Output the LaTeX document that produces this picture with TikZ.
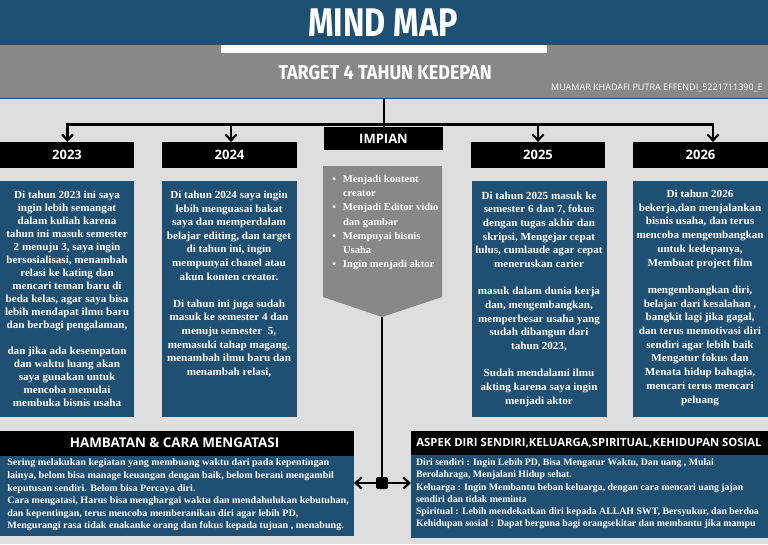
\documentclass[tikz,border=0pt]{standalone}
\usepackage{fontspec}
\usetikzlibrary{arrows.meta}
\setmainfont{Liberation Serif}
\newfontfamily\colfont[FakeStretch=1.03]{Liberation Serif}
\newfontfamily\lowfont[FakeStretch=1.03]{Liberation Serif}
\newfontfamily\headfont{Open Sans}
\newfontfamily\titlefont[FakeStretch=0.81]{Fira Sans}
\newfontfamily\subfont[FakeStretch=0.9]{Fira Sans}
\definecolor{bandblue}{HTML}{1F4F73}
\definecolor{bandgray}{HTML}{888888}
\definecolor{pagegray}{HTML}{DEDEDE}
\tikzset{
  flat/.style={inner sep=0pt,outer sep=0pt,anchor=north west},
  yearbox/.style={flat,fill=black,text=white,font=\headfont\bfseries\fontsize{13}{14}\selectfont,minimum height=26pt,minimum width=135pt},
  bluebox/.style={flat,fill=bandblue,minimum height=236pt,minimum width=135pt},
  body/.style={inner sep=0pt,outer sep=0pt,anchor=north,text=white,align=center,font=\colfont\bfseries\fontsize{10.8}{#1}\selectfont},
  para/.style={inner sep=0pt,outer sep=0pt,anchor=north west,text=white,align=left,font=\lowfont\bfseries\fontsize{9.8}{#1}\selectfont},
  wishpara/.style={inner sep=0pt,outer sep=0pt,anchor=north west,text=white,align=left,font=\colfont\bfseries\fontsize{10.3}{#1}\selectfont},
  wire/.style={line width=2.6pt,draw=black},
  tipwire/.style={wire,-{Straight Barb[length=6pt,width=11pt,line width=2.2pt]}},
}
\begin{document}
\begin{tikzpicture}[x=1pt,y=-1pt]
\useasboundingbox (0,0) rectangle (768,544);
\fill[pagegray] (0,0) rectangle (768,544);
\node[flat,fill=bandgray,minimum width=768pt,minimum height=53pt] (grayband) at (0,45) {};
\node[flat,fill=bandblue,minimum width=768pt,minimum height=45pt] (blueband) at (0,0) {};
\fill[bandblue] (0,98) rectangle (768,99);
\node[flat,fill=white,minimum width=326pt,minimum height=8pt] (whitebar) at (221,45) {};
\node[inner sep=0pt,text=white,font=\titlefont\bfseries\fontsize{40}{40}\selectfont] (title) at (383,23) {MIND MAP};
\node[inner sep=0pt,text=white,font=\subfont\bfseries\fontsize{20}{20}\selectfont] (subtitle) at (385,72.5) {TARGET 4 TAHUN KEDEPAN};
\node[inner sep=0pt,anchor=east,text=white,font=\headfont\fontsize{9}{10}\selectfont] (author) at (763,88) {MUAMAR KHADAFI PUTRA EFFENDI\_5221711390\_E};

% year headers
\node[yearbox,minimum width=134pt] (y2023) at (0,142) {2023};
\node[yearbox] (y2024) at (162,142) {2024};
\node[yearbox,minimum width=134pt] (y2025) at (471,142) {2025};
\node[yearbox] (y2026) at (633,142) {2026};
\node[yearbox,minimum width=119pt,minimum height=23pt] (impian) at (324,127) {IMPIAN};

% connectors above
\coordinate (b1) at (67.5,124.5);
\coordinate (b2) at (231,124.5);
\coordinate (b3) at (538,124.5);
\coordinate (b4) at (713,124.5);
\draw[wire] (384,98) coordinate (trunktop) -- (384,127) coordinate (trunkend);
\draw[wire,line cap=rect] (b1) -- (b4);
\draw[tipwire] (b1) -- (y2023.north -| b1);
\draw[tipwire] (b2) -- (y2024.north -| b2);
\draw[tipwire] (b3) -- (y2025.north -| b3);
\draw[tipwire] (b4) -- (y2026.north -| b4);

% blue columns
\node[bluebox,minimum width=134pt] (c2023) at (0,181) {};
\node[bluebox] (c2024) at (162,181) {};
\node[bluebox] (c2025) at (472,181) {};
\node[bluebox] (c2026) at (633,181) {};

\node[body=13] (t2023) at (67,190.5) {Di tahun 2023 ini saya\\ingin lebih semangat\\dalam kuliah karena\\tahun ini masuk semester\\2 menuju 3, saya ingin\\bersosialisasi, menambah\\relasi ke kating dan\\mencari teman baru di\\beda kelas, agar saya bisa\\lebih mendapat ilmu baru\\dan berbagi pengalaman,\\[13pt]dan jika ada kesempatan\\dan waktu luang akan\\saya gunakan untuk\\mencoba memulai\\membuka bisnis usaha};
\node[body=13.6] (t2024) at (229,191) {Di tahun 2024 saya ingin\\lebih menguasai bakat\\saya dan memperdalam\\belajar editing, dan target\\di tahun ini, ingin\\mempunyai chanel atau\\akun konten creator.\\[13.6pt]Di tahun ini juga sudah\\masuk ke semester 4 dan\\menuju semester~~5,\\memasuki tahap magang.\\menambah ilmu baru dan\\menambah relasi,};
\node[body=13.67] (t2025) at (539,191.5) {Di tahun 2025 masuk ke\\semester 6 dan 7, fokus\\dengan tugas akhir dan\\skripsi, Mengejar cepat\\lulus, cumlaude agar cepat\\meneruskan carier\\[13.67pt]masuk dalam dunia kerja\\dan, mengembangkan,\\memperbesar usaha yang\\sudah dibangun dari\\tahun 2023,\\[13.67pt]Sudah mendalami ilmu\\akting karena saya ingin\\menjadi aktor};
\node[body=13.7] (t2026) at (700,190) {Di tahun 2026\\bekerja,dan menjalankan\\bisnis usaha, dan terus\\mencoba mengembangkan\\untuk kedepanya,\\Membuat project film\\[13.7pt]mengembangkan diri,\\belajar dari kesalahan ,\\bangkit lagi jika gagal,\\dan terus memotivasi diri\\sendiri agar lebih baik\\Mengatur fokus dan\\Menata hidup bahagia,\\mencari terus mencari\\peluang};

% centre pentagon
\path (323,166) coordinate (p1) (442,166) coordinate (p2) (442,297) coordinate (p3) (382,317) coordinate (ptip) (323,297) coordinate (p5);
\fill[bandgray] (p1) -- (p2) -- (p3) -- (ptip) -- (p5) -- cycle;
\node[wishpara=14.3] (wishes) at (343,175) {\llap{•\hspace{7pt}}Menjadi kontent\\creator\\\llap{•\hspace{7pt}}Menjadi Editor vidio\\dan gambar\\\llap{•\hspace{7pt}}Mempuyai bisnis\\Usaha\\\llap{•\hspace{7pt}}Ingin menjadi aktor};

% bottom boxes
\node[flat,fill=bandblue,minimum width=354pt,minimum height=80pt] (lbody) at (0,456) {};
\node[flat,fill=black,minimum width=354pt,minimum height=25pt] (lhead) at (0,431) {};
\node[inner sep=0pt,text=white,font=\headfont\bfseries\fontsize{13.4}{14}\selectfont] (lheadtext) at (174.5,442.5) {HAMBATAN \& CARA MENGATASI};
\node[flat,fill=bandblue,minimum width=357pt,minimum height=83pt] (rbody) at (411,455) {};
\node[flat,fill=black,minimum width=357pt,minimum height=24pt] (rhead) at (411,431) {};
\node[inner sep=0pt,text=white,font=\headfont\bfseries\fontsize{11.3}{14}\selectfont] (rheadtext) at (589,443) {ASPEK DIRI SENDIRI,KELUARGA,SPIRITUAL,KEHIDUPAN SOSIAL};
\node[para=12.6] (ltext) at (7.3,459) {Sering melakukan kegiatan yang membuang waktu dari pada kepentingan\\lainya, belom bisa manage keuangan dengan baik, belom berani mengambil\\keputusan sendiri. Belom bisa Percaya diri.\\Cara mengatasi, Harus bisa menghargai waktu dan mendahulukan kebutuhan,\\dan kepentingan, terus mencoba memberanikan diri agar lebih PD,\\Mengurangi rasa tidak enakanke orang dan fokus kepada tujuan , menabung.};
\node[para=12.1,font=\bfseries\fontsize{9.8}{12.1}\selectfont] (rtext) at (416,459) {Diri sendiri : Ingin Lebih PD, Bisa Mengatur Waktu, Dan uang , Mulai\\Berolahraga, Menjalani Hidup sehat.\\Keluarga : Ingin Membantu beban keluarga, dengan cara mencari uang jajan\\sendiri dan tidak meminta\\Spiritual : Lebih mendekatkan diri kepada ALLAH SWT, Bersyukur, dan berdoa\\Kehidupan sosial : Dapat berguna bagi orangsekitar dan membantu jika mampu};

% lower connectors
\node[fill=black,rounded corners=2pt,minimum size=12pt,inner sep=0pt] (hub) at (382,483) {};
\draw[wire] (ptip) -- (hub);
\draw[tipwire] (hub) -- (lbody.east |- hub);
\draw[tipwire] (hub) -- (rbody.west |- hub);
\end{tikzpicture}
\end{document}
